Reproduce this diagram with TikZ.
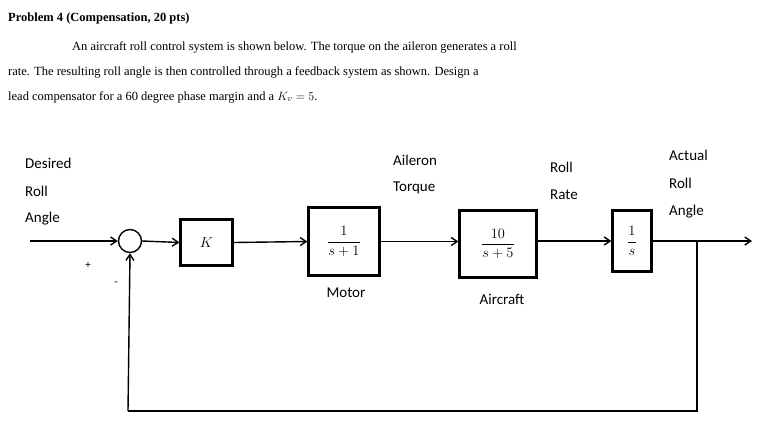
\documentclass[tikz,border=0pt]{standalone}
\usepackage{fontspec}
\setmainfont{Liberation Serif}
\newfontfamily\calfnt{Carlito}
\usetikzlibrary{arrows.meta}
\begin{document}
\begin{tikzpicture}[x=1pt,y=-1pt,
  lab/.style={font=\calfnt\fontsize{15}{15}\selectfont,anchor=west,inner sep=0},
  blk/.style={draw,line width=2.2pt,inner sep=0},
  sig/.style={line width=1.4pt,-{Straight Barb[length=6pt,width=8pt]}},
  ln/.style={line width=1.4pt}]
\useasboundingbox (0,0) rectangle (766,432);
\node[anchor=west,inner sep=0,font=\fontsize{12.5}{14}\selectfont\bfseries] (t1) at (8,18) {Problem 4 (Compensation, 20 pts)};
\node[anchor=west,inner sep=0,font=\fontsize{12.5}{14}\selectfont] (t2) at (72,47) {An aircraft roll control system is shown below. The torque on the aileron generates a roll};
\node[anchor=west,inner sep=0,font=\fontsize{12.5}{14}\selectfont] (t3) at (8,72) {rate. The resulting roll angle is then controlled through a feedback system as shown. Design a};
\node[anchor=west,inner sep=0,font=\fontsize{12.5}{14}\selectfont] (t4) at (8,97) {lead compensator for a 60 degree phase margin and a $K_v=5$.};
\node[lab] (d1) at (25,163) {Desired};
\node[lab] (d2) at (25,191) {Roll};
\node[lab] (d3) at (25,219) {Angle};
\node[lab] (a1) at (393,160) {Aileron};
\node[lab] (a2) at (393,188) {Torque};
\node[lab] (r1) at (550,167) {Roll};
\node[lab] (r2) at (550,195) {Rate};
\node[lab] (o1) at (669,155) {Actual};
\node[lab] (o2) at (669,183) {Roll};
\node[lab] (o3) at (669,212) {Angle};
\coordinate (in) at (30,241);
\node[draw,circle,line width=1.4pt,minimum size=23pt,inner sep=0] (sum) at (130,241) {};
\node[blk,minimum width=52pt,minimum height=46pt,font=\fontsize{15}{15}\selectfont] (K) at (206.5,242.5) {$K$};
\node[blk,minimum width=71pt,minimum height=68pt,font=\fontsize{15}{15}\selectfont] (M) at (344,241.5) {$\displaystyle\frac{1}{s+1}$};
\node[blk,minimum width=77pt,minimum height=67pt,font=\fontsize{15}{15}\selectfont] (A) at (498,244) {$\displaystyle\frac{10}{s+5}$};
\node[blk,minimum width=39pt,minimum height=61pt,font=\fontsize{15}{15}\selectfont] (I) at (632,241) {$\displaystyle\frac{1}{s}$};
\node[font=\calfnt\fontsize{15}{15}\selectfont,inner sep=0] (ml) at (346,293) {Motor};
\node[font=\calfnt\fontsize{15}{15}\selectfont,inner sep=0] (al) at (502,299) {Aircraft};
\node[font=\calfnt\fontsize{11}{11}\selectfont,inner sep=0] (p) at (88,265) {+};
\node[font=\calfnt\fontsize{11}{11}\selectfont,inner sep=0] (m) at (116,284) {-};
\coordinate (out) at (752,241);
\coordinate (br) at (697,241);
\coordinate (b1) at (697,411);
\coordinate (b2) at (128,411);
\draw[sig] (in) -- (sum.west);
\draw[sig] (sum.east) -- (K.west);
\draw[sig] (K.east) -- (M.west);
\draw[sig] (M.east) -- (A.west |- M.east);
\draw[sig] (A.east |- I.west) -- (I.west);
\draw[sig] (I.east) -- (out);
\draw[ln] (br) -- (b1) -- (b2);
\draw[sig] (b2) -- (sum.south);
\end{tikzpicture}
\end{document}
